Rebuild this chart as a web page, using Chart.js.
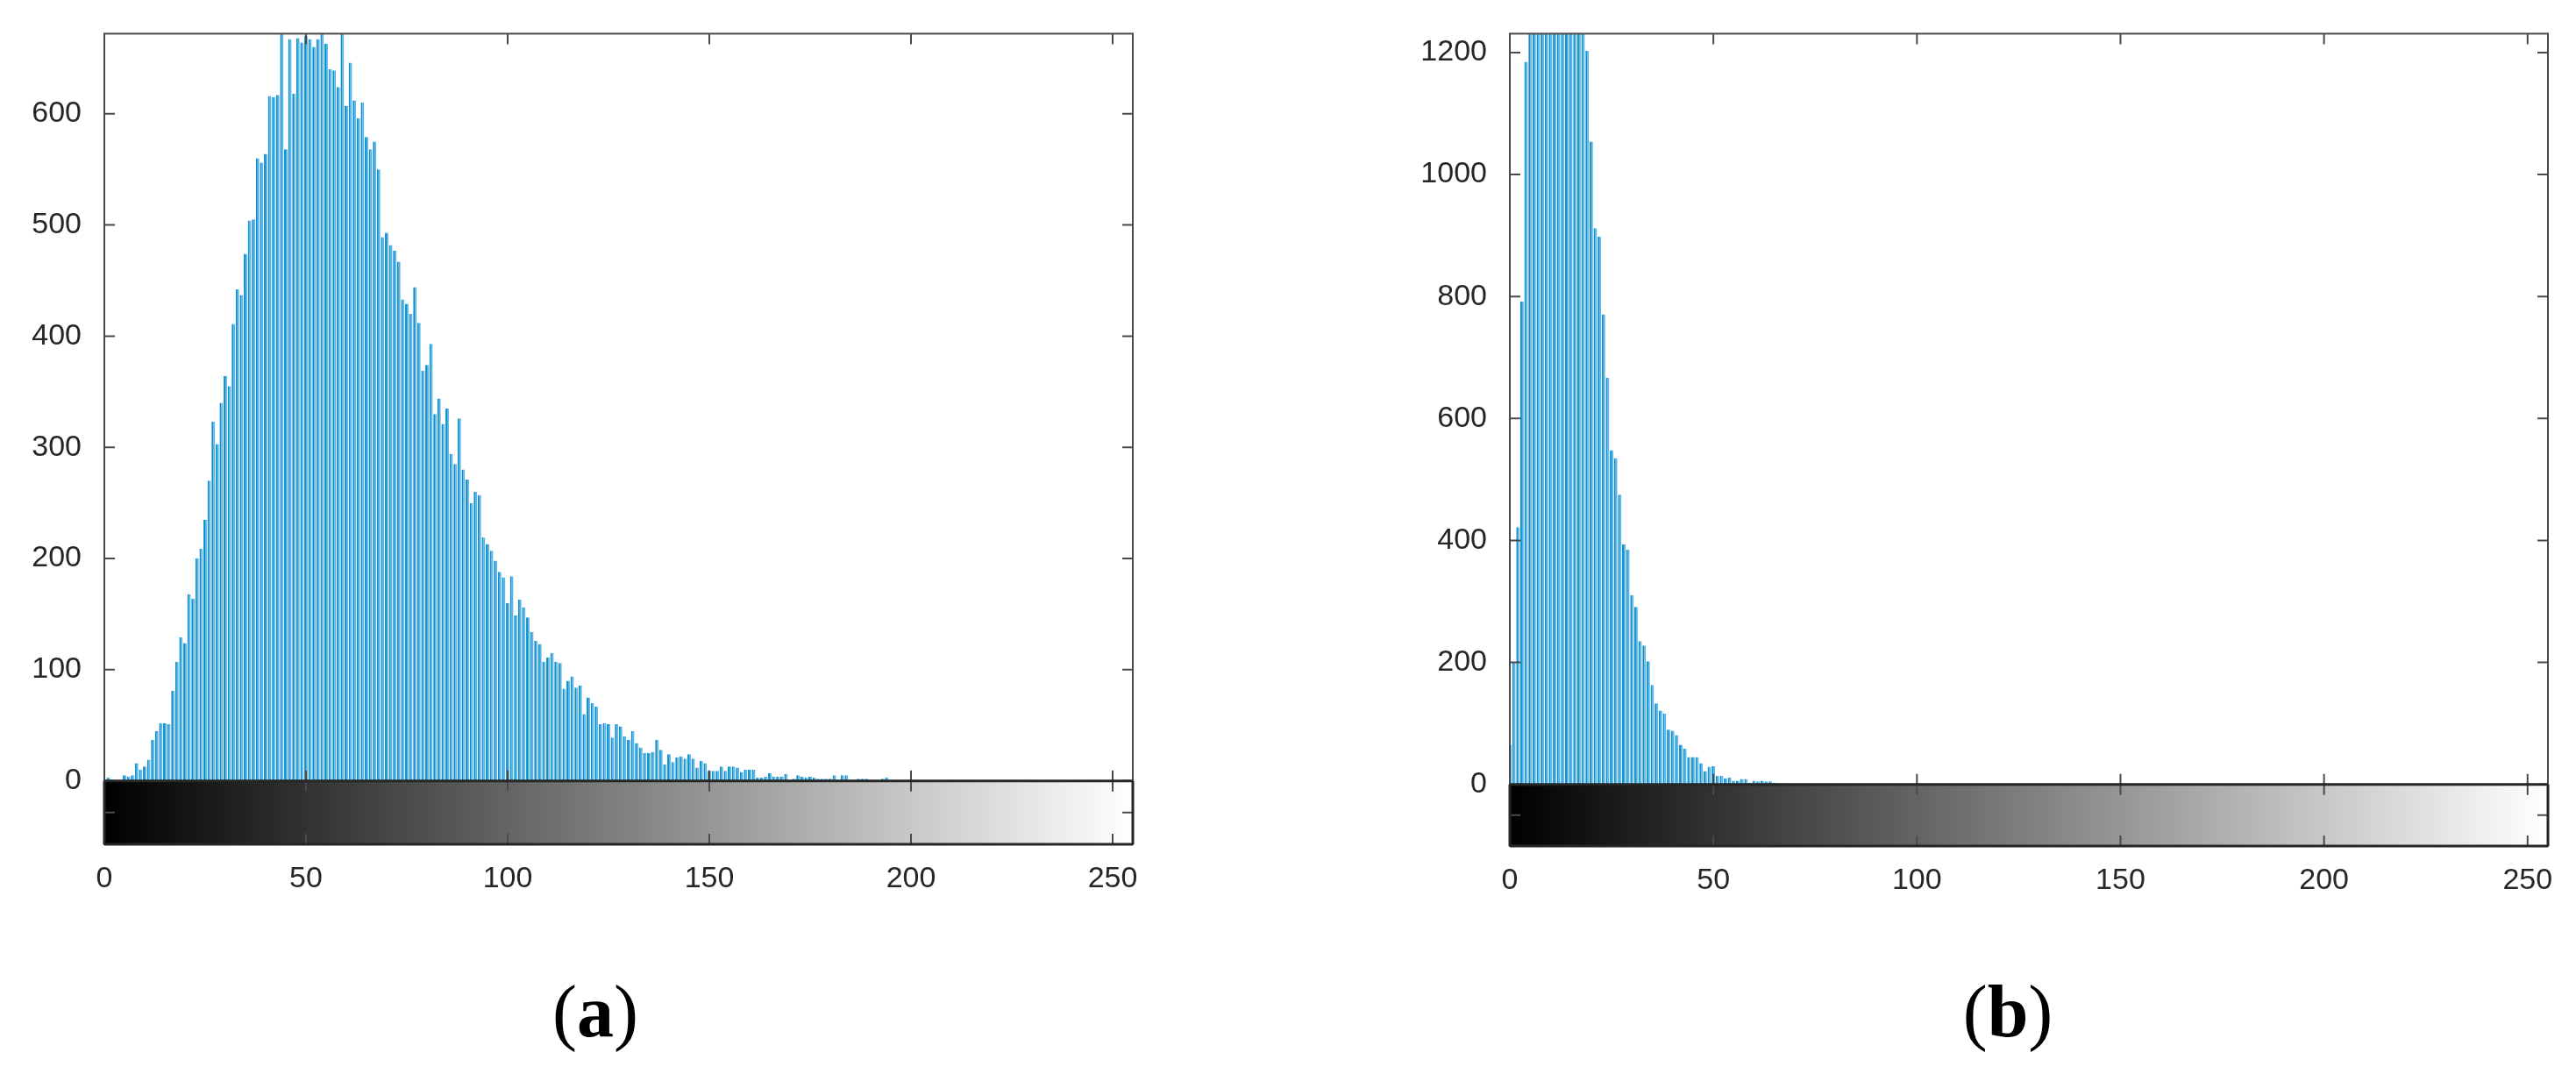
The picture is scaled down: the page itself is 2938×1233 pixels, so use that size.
<!DOCTYPE html>
<html lang="en">
<head>
    <meta charset="UTF-8">
    <title>Histograms (a) and (b)</title>
    <script src="https://cdn.jsdelivr.net/npm/chart.js"></script>
    <style>
        body { margin: 0; background: #fff; width: 2938px; height: 1233px; position: relative; overflow: hidden; }
        canvas { position: absolute; top: 0; }
        #histA { left: 0; }
        #histB { left: 1469px; }
        .panel-label {
            position: absolute;
            font-family: 'Liberation Serif', 'Times New Roman', serif;
            font-size: 84px;
            line-height: 1;
            color: #000;
            transform: translate(-50%, -50%);
        }
    </style>
</head>
<body>
    <canvas id="histA" width="1400" height="1060"></canvas>
    <canvas id="histB" width="1469" height="1060"></canvas>
    <div class="panel-label" style="left:679px; top:1154px;">(<b>a</b>)</div>
    <div class="panel-label" style="left:2290px; top:1154px;">(<b>b</b>)</div>

    <script>
        // grey levels 0..255 (one bin per level)
        const xTicks = [0, 50, 100, 150, 200, 250];

        // histogram (a): pixel counts per grey level
        const countsA = [
            0, 3, 0, 0, 0, 5, 4, 5, 16, 10, 13, 19, 37, 45, 52, 52,
            51, 81, 107, 129, 124, 168, 164, 200, 209, 235, 270, 323, 303, 340, 364, 355,
            411, 442, 437, 474, 504, 505, 560, 556, 564, 616, 615, 617, 690, 568, 667, 618,
            668, 664, 670, 667, 660, 667, 685, 663, 640, 639, 624, 680, 607, 646, 612, 596,
            610, 579, 568, 575, 550, 489, 493, 482, 477, 467, 433, 429, 420, 444, 412, 369,
            374, 393, 330, 344, 321, 335, 294, 285, 326, 280, 271, 250, 260, 257, 219, 213,
            207, 198, 188, 183, 160, 184, 149, 163, 156, 147, 134, 126, 123, 107, 111, 115,
            107, 106, 83, 90, 94, 84, 86, 60, 75, 70, 67, 51, 52, 51, 39, 51,
            49, 40, 37, 45, 34, 30, 25, 25, 26, 37, 28, 15, 24, 17, 21, 22,
            20, 24, 20, 12, 18, 16, 9, 9, 9, 13, 9, 13, 13, 12, 8, 10,
            10, 10, 3, 3, 4, 7, 4, 4, 4, 6, 1, 2, 5, 4, 3, 4,
            3, 2, 2, 2, 2, 5, 1, 5, 5, 1, 1, 2, 2, 2, 1, 0,
            0, 2, 3, 0, 0, 0, 0, 1, 0, 0, 1, 0, 0, 0, 0, 0,
            0, 0, 0, 0, 0, 0, 0, 0, 0, 0, 0, 0, 0, 0, 0, 0,
            0, 0, 0, 0, 0, 0, 0, 0, 0, 0, 0, 0, 0, 0, 0, 0,
            0, 0, 0, 0, 0, 0, 0, 0, 0, 0, 0, 0, 0, 0, 0, 0
        ];
        const yTicksA = [0, 100, 200, 300, 400, 500, 600];

        // histogram (b): pixel counts per grey level (peak runs off the top)
        const countsB = [
            65, 200, 422, 792, 1185, 1290, 1370, 1440, 1500, 1540, 1570, 1580, 1570, 1550, 1510, 1460,
            1400, 1340, 1280, 1203, 1054, 912, 898, 771, 667, 548, 535, 475, 394, 385, 310, 291,
            235, 228, 202, 163, 133, 121, 116, 90, 88, 81, 65, 59, 45, 45, 45, 35,
            22, 29, 30, 14, 14, 10, 11, 6, 6, 9, 9, 3, 6, 5, 6, 5,
            5, 3, 2, 1, 2, 1, 1, 0, 1, 1, 0, 0, 1, 0, 0, 0,
            1, 0, 0, 0, 0, 1, 0, 0, 0, 0, 0, 0, 0, 0, 0, 0,
            0, 0, 0, 0, 0, 0, 0, 0, 0, 0, 0, 0, 0, 0, 0, 0,
            0, 0, 0, 0, 0, 0, 0, 0, 0, 0, 0, 0, 0, 0, 0, 0,
            0, 0, 0, 0, 0, 0, 0, 0, 0, 0, 0, 0, 0, 0, 0, 0,
            0, 0, 0, 0, 0, 0, 0, 0, 0, 0, 0, 0, 0, 0, 0, 0,
            0, 0, 0, 0, 0, 0, 0, 0, 0, 0, 0, 0, 0, 0, 0, 0,
            0, 0, 0, 0, 0, 0, 0, 0, 0, 0, 0, 0, 0, 0, 0, 0,
            0, 0, 0, 0, 0, 0, 0, 0, 0, 0, 0, 0, 0, 0, 0, 0,
            0, 0, 0, 0, 0, 0, 0, 0, 0, 0, 0, 0, 0, 0, 0, 0,
            0, 0, 0, 0, 0, 0, 0, 0, 0, 0, 0, 0, 0, 0, 0, 0,
            0, 0, 0, 0, 0, 0, 0, 0, 0, 0, 0, 0, 0, 0, 0, 0
        ];
        const yTicksB = [0, 200, 400, 600, 800, 1000, 1200];

        const TICK = 12;

        // grey colour strip under the zero line + matlab-like box with inward ticks
        const histFrame = {
            id: 'histFrame',
            beforeDatasetsDraw(chart) {
                const { ctx, chartArea: a, scales: { x, y } } = chart;
                const y0 = y.getPixelForValue(0);
                const g = ctx.createLinearGradient(x.getPixelForValue(0), 0, x.getPixelForValue(255), 0);
                g.addColorStop(0, '#000');
                g.addColorStop(1, '#fff');
                ctx.save();
                ctx.fillStyle = g;
                ctx.fillRect(a.left, y0, a.right - a.left, a.bottom - y0);
                ctx.restore();
            },
            afterDraw(chart) {
                const { ctx, chartArea: a, scales: { x, y } } = chart;
                const y0 = y.getPixelForValue(0);
                const yMid = y.getPixelForValue(y.min / 2);
                ctx.save();
                ctx.strokeStyle = '#4a4a4a';
                ctx.lineWidth = 2;
                ctx.strokeRect(a.left, a.top, a.right - a.left, a.bottom - a.top);

                ctx.beginPath();
                x.ticks.forEach(t => {
                    const px = x.getPixelForValue(t.value);
                    ctx.moveTo(px, a.top); ctx.lineTo(px, a.top + TICK);
                    ctx.moveTo(px, y0 - TICK); ctx.lineTo(px, y0 + TICK);
                    ctx.moveTo(px, a.bottom); ctx.lineTo(px, a.bottom - TICK);
                });
                y.ticks.forEach(t => {
                    const py = y.getPixelForValue(t.value);
                    ctx.moveTo(a.left, py); ctx.lineTo(a.left + TICK, py);
                    ctx.moveTo(a.right, py); ctx.lineTo(a.right - TICK, py);
                });
                ctx.moveTo(a.left, yMid); ctx.lineTo(a.left + TICK, yMid);
                ctx.moveTo(a.right, yMid); ctx.lineTo(a.right - TICK, yMid);
                ctx.stroke();

                // strip border
                ctx.strokeStyle = '#262626';
                ctx.lineWidth = 3;
                ctx.beginPath();
                ctx.moveTo(a.left, y0); ctx.lineTo(a.right, y0);
                ctx.moveTo(a.left, a.bottom); ctx.lineTo(a.right, a.bottom);
                ctx.moveTo(a.left, y0); ctx.lineTo(a.left, a.bottom);
                ctx.moveTo(a.right, y0); ctx.lineTo(a.right, a.bottom);
                ctx.stroke();
                ctx.restore();
            }
        };

        function makeHist(id, counts, yTicks, yMin, yMax, box) {
            const tickFont = { family: "'Liberation Sans', Arial, sans-serif", size: 34 };
            return new Chart(document.getElementById(id), {
                type: 'bar',
                data: {
                    datasets: [{
                        data: counts.map((c, i) => ({ x: i, y: c })),
                        backgroundColor: '#5db5e3',
                        borderColor: '#0a8fd2',
                        borderWidth: { left: 2, right: 0, top: 0, bottom: 0 },
                        borderSkipped: false,
                        barPercentage: 0.85,
                        categoryPercentage: 1
                    }]
                },
                options: {
                    responsive: false,
                    devicePixelRatio: 1,
                    animation: false,
                    layout: { padding: { left: 0, top: box.top, right: box.right, bottom: 0 } },
                    plugins: { legend: { display: false }, tooltip: { enabled: false } },
                    scales: {
                        x: {
                            type: 'linear',
                            offset: false,
                            min: 0,
                            max: 255,
                            grid: { display: false, offset: false },
                            border: { display: false },
                            ticks: { font: tickFont, color: '#262626', padding: 11, maxRotation: 0,
                                     callback: v => String(v) },
                            afterBuildTicks: s => { s.ticks = xTicks.map(v => ({ value: v })); },
                            afterFit: s => { s.height = box.xHeight; }
                        },
                        y: {
                            min: yMin,
                            max: yMax,
                            grid: { display: false },
                            border: { display: false },
                            ticks: { font: tickFont, color: '#262626', padding: 18,
                                     callback: v => String(v) },
                            afterBuildTicks: s => { s.ticks = yTicks.map(v => ({ value: v })); },
                            afterFit: s => { s.width = box.yWidth; }
                        }
                    }
                },
                plugins: [histFrame]
            });
        }

        makeHist('histA', countsA, yTicksA, -57, 672, { top: 36, right: 108, xHeight: 97, yWidth: 119 });
        makeHist('histB', countsB, yTicksB, -101, 1231, { top: 31, right: 32, xHeight: 95, yWidth: 253 });
    </script>
</body>
</html>
